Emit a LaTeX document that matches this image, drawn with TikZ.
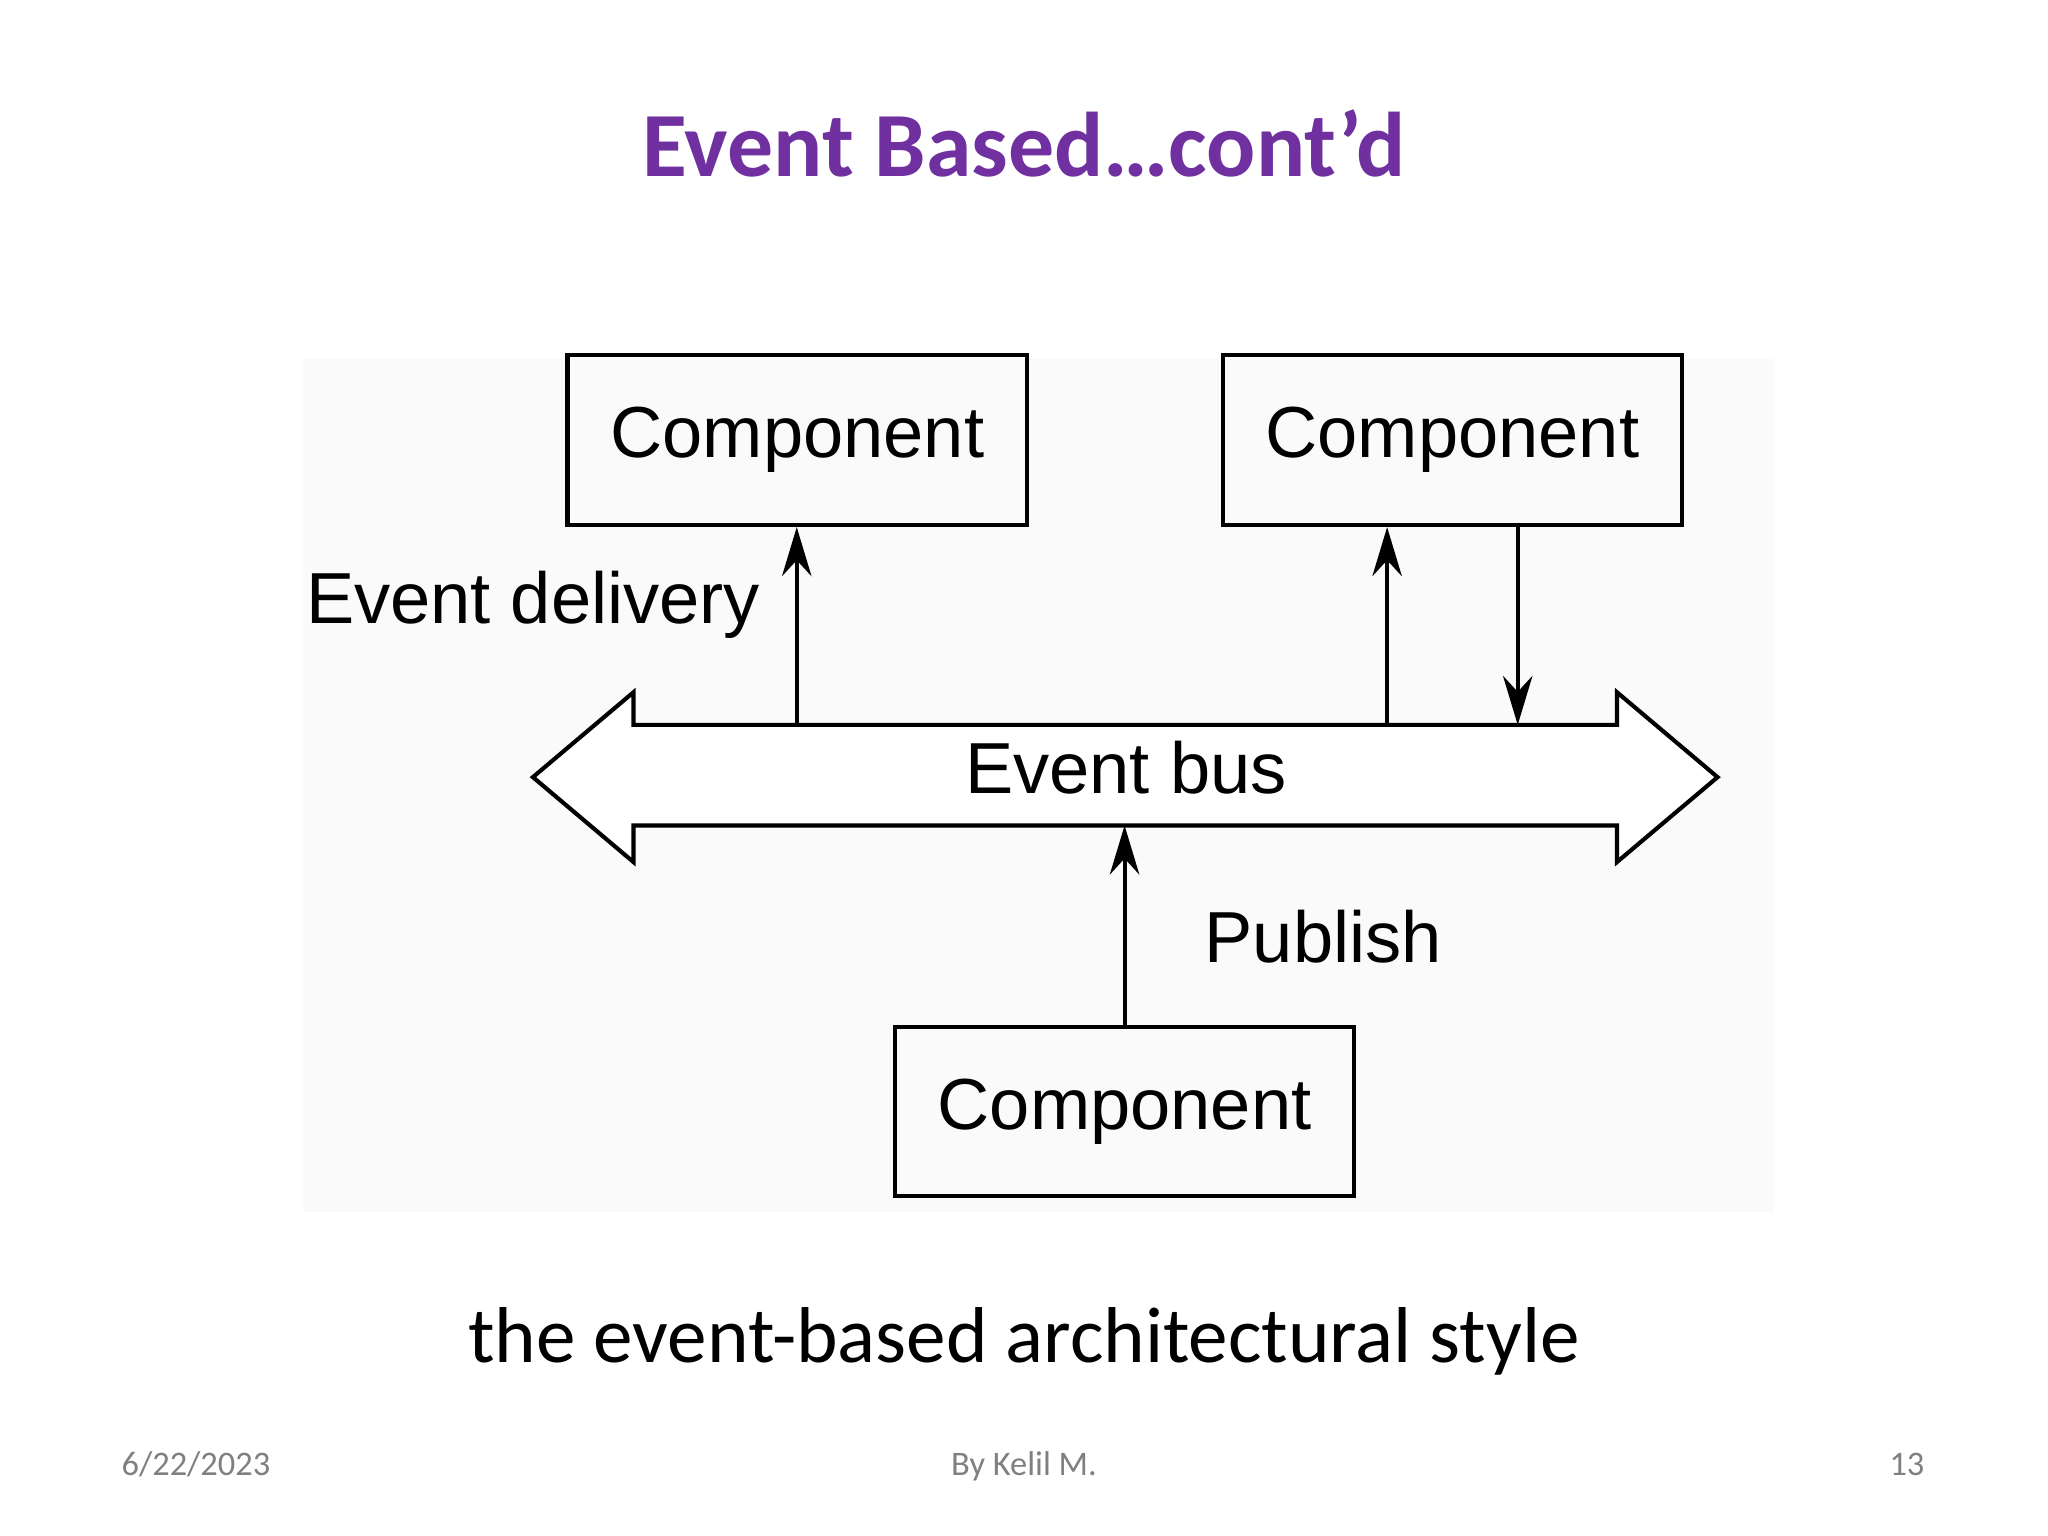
\documentclass[tikz,border=0pt]{standalone}
\usepackage{fontspec}
\setmainfont{Liberation Sans}
\newfontfamily\carlitofont{Carlito}
\usetikzlibrary{arrows.meta}
\definecolor{titlepurple}{HTML}{7030A0}
\begin{document}
\begin{tikzpicture}[x=0.02cm,y=-0.02cm,
 box/.style={draw,line width=1.8pt,minimum width=7.04cm,minimum height=2.6cm,inner sep=0,font=\fontsize{31.5}{36}\selectfont},
 arr/.style={line width=1.8pt,-{Stealth[length=0.75cm,width=0.45cm]}},
 lbl/.style={inner sep=0,font=\fontsize{31.5}{36}\selectfont},
 foot/.style={inner sep=0,anchor=base,text=gray,font=\carlitofont\fontsize{15}{18}\selectfont}]
\useasboundingbox (0,0) rectangle (1568,1176);
\fill[white] (0,0) rectangle (1568,1176);
\fill[black!2] (232,275) rectangle (1358,928);
\node[inner sep=0,text=titlepurple,font=\carlitofont\bfseries\fontsize{40}{44}\selectfont] (title) at (784,110) {Event Based…cont’d};
\node[box] (c1) at (610.5,337) {Component};
\node[box] (c2) at (1112,337) {Component};
\node[box] (c3) at (861,851) {Component};
\draw[line width=1.8pt,fill=white] (408,595) -- (485,530) -- (485,555) -- (1238,555) -- (1238,530) -- (1315,595) -- (1238,660) -- (1238,632) -- (485,632) -- (485,660) -- cycle;
\node[lbl] (bus) at (862,588) {Event bus};
\coordinate (b1) at (610,555);
\coordinate (b2) at (1062,555);
\coordinate (b3) at (1162,555);
\coordinate (b4) at (861,632);
\draw[arr] (b1) -- (b1 |- c1.south);
\draw[arr] (b2) -- (b2 |- c2.south);
\draw[arr] (b3 |- c2.south) -- (b3);
\draw[arr] (c3.north) -- (b4);
\node[lbl,anchor=west] (ed) at (234,463) {Event delivery};
\node[lbl,anchor=west] (pub) at (922,717) {Publish};
\node[inner sep=0,font=\carlitofont\fontsize{34.5}{40}\selectfont] (cap) at (784,1027) {the event-based architectural style};
\node[foot] (d) at (150,1130) {6/22/2023};
\node[foot] (a) at (784,1130) {By Kelil M.};
\node[foot] (n) at (1460,1130) {13};
\end{tikzpicture}
\end{document}
